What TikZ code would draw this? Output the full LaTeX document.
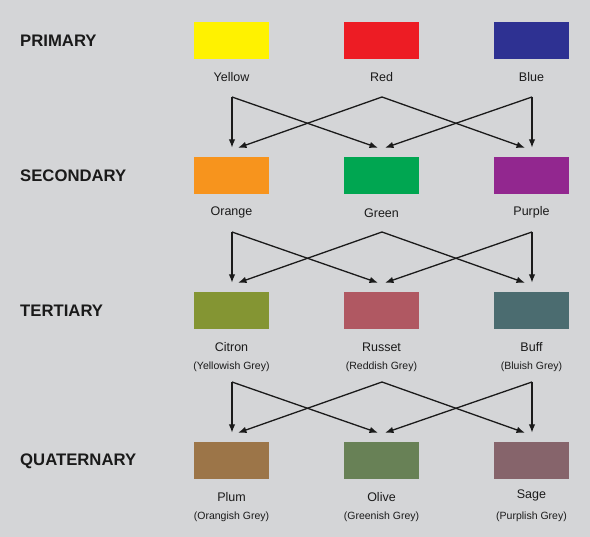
\documentclass[tikz,border=0pt]{standalone}
\usepackage{fontspec}
\setmainfont{Liberation Sans}
\usetikzlibrary{arrows.meta}

\definecolor{paper}{HTML}{D4D5D7}
\definecolor{ink}{HTML}{1A1A1A}
\definecolor{cYellow}{HTML}{FFF200}
\definecolor{cRed}{HTML}{ED1C24}
\definecolor{cBlue}{HTML}{2E3192}
\definecolor{cOrange}{HTML}{F7941D}
\definecolor{cGreen}{HTML}{00A651}
\definecolor{cPurple}{HTML}{92278F}
\definecolor{cCitron}{HTML}{849533}
\definecolor{cRusset}{HTML}{B05862}
\definecolor{cBuff}{HTML}{4B6C70}
\definecolor{cPlum}{HTML}{9C7548}
\definecolor{cOlive}{HTML}{688156}
\definecolor{cSage}{HTML}{86646B}

\begin{document}
\begin{tikzpicture}[x=1pt, y=-1pt,
    swatch/.style={rectangle, draw=none, minimum width=75pt, minimum height=37pt, inner sep=0pt},
    rowtitle/.style={anchor=west, inner sep=0pt, text=ink, font=\fontsize{16.7}{20}\selectfont\bfseries},
    colname/.style={anchor=base, inner sep=0pt, text=ink, font=\fontsize{12.5}{15}\selectfont},
    colnote/.style={anchor=base, inner sep=0pt, text=ink, font=\fontsize{10.5}{13}\selectfont},
    mix/.style={-{Latex[length=8.5pt,width=6.5pt]}, line width=1.3pt, ink}]
    % Background
    \fill[paper] (0,0) rectangle (590,537);
    \useasboundingbox (0,0) rectangle (590,537);

    % Row titles
    \node[rowtitle] (primary) at (20,40.5) {PRIMARY};
    \node[rowtitle] (secondary) at (20,175.5) {SECONDARY};
    \node[rowtitle] (tertiary) at (20,310.5) {TERTIARY};
    \node[rowtitle] (quaternary) at (20,461) {QUATERNARY};

    % Primary colours
    \node[swatch, fill=cYellow] (yellow) at (231.5,40.5) {};
    \node[swatch, fill=cRed] (red) at (381.5,40.5) {};
    \node[swatch, fill=cBlue] (blue) at (531.5,40.5) {};
    \node[colname] (yellowname) at (231.5,82) {Yellow};
    \node[colname] (redname) at (381.5,82) {Red};
    \node[colname] (bluename) at (531.5,82) {Blue};

    % Secondary colours
    \node[swatch, fill=cOrange] (orange) at (231.5,175.5) {};
    \node[swatch, fill=cGreen] (green) at (381.5,175.5) {};
    \node[swatch, fill=cPurple] (purple) at (531.5,175.5) {};
    \node[colname] (orangename) at (231.5,215.5) {Orange};
    \node[colname] (greenname) at (381.5,217.5) {Green};
    \node[colname] (purplename) at (531.5,215.5) {Purple};

    % Tertiary colours
    \node[swatch, fill=cCitron] (citron) at (231.5,310.5) {};
    \node[swatch, fill=cRusset] (russet) at (381.5,310.5) {};
    \node[swatch, fill=cBuff] (buff) at (531.5,310.5) {};
    \node[colname] (citronname) at (231.5,352) {Citron};
    \node[colname] (russetname) at (381.5,352) {Russet};
    \node[colname] (buffname) at (531.5,352) {Buff};
    \node[colnote] (citronnote) at (231.5,369.5) {(Yellowish Grey)};
    \node[colnote] (russetnote) at (381.5,369.5) {(Reddish Grey)};
    \node[colnote] (buffnote) at (531.5,369.5) {(Bluish Grey)};

    % Quaternary colours
    \node[swatch, fill=cPlum] (plum) at (231.5,460.5) {};
    \node[swatch, fill=cOlive] (olive) at (381.5,460.5) {};
    \node[swatch, fill=cSage] (sage) at (531.5,460.5) {};
    \node[colname] (plumname) at (231.5,502) {Plum};
    \node[colname] (olivename) at (381.5,502) {Olive};
    \node[colname] (sagename) at (531.5,499) {Sage};
    \node[colnote] (plumnote) at (231.5,519.5) {(Orangish Grey)};
    \node[colnote] (olivenote) at (381.5,519.5) {(Greenish Grey)};
    \node[colnote] (sagenote) at (531.5,519.5) {(Purplish Grey)};

    % Start points of the mixing arrows
    \coordinate (yellowout) at (232,97);
    \coordinate (redout) at (382,97);
    \coordinate (blueout) at (532,97);
    \coordinate (orangeout) at (232,232);
    \coordinate (greenout) at (382,232);
    \coordinate (purpleout) at (532,232);
    \coordinate (citronout) at (232,382);
    \coordinate (russetout) at (382,382);
    \coordinate (buffout) at (532,382);

    % Primary -> secondary
    \draw[mix] (yellowout) -- ([xshift=0.5pt,yshift=9pt]orange.north);
    \draw[mix] (yellowout) -- ([xshift=-3.5pt,yshift=9pt]green.north);
    \draw[mix] (redout) -- ([xshift=6.5pt,yshift=9pt]orange.north);
    \draw[mix] (redout) -- ([xshift=-6.5pt,yshift=9pt]purple.north);
    \draw[mix] (blueout) -- ([xshift=3.5pt,yshift=9pt]green.north);
    \draw[mix] (blueout) -- ([xshift=0.5pt,yshift=9pt]purple.north);

    % Secondary -> tertiary
    \draw[mix] (orangeout) -- ([xshift=0.5pt,yshift=9pt]citron.north);
    \draw[mix] (orangeout) -- ([xshift=-3.5pt,yshift=9pt]russet.north);
    \draw[mix] (greenout) -- ([xshift=6.5pt,yshift=9pt]citron.north);
    \draw[mix] (greenout) -- ([xshift=-6.5pt,yshift=9pt]buff.north);
    \draw[mix] (purpleout) -- ([xshift=3.5pt,yshift=9pt]russet.north);
    \draw[mix] (purpleout) -- ([xshift=0.5pt,yshift=9pt]buff.north);

    % Tertiary -> quaternary
    \draw[mix] (citronout) -- ([xshift=0.5pt,yshift=9pt]plum.north);
    \draw[mix] (citronout) -- ([xshift=-3.5pt,yshift=9pt]olive.north);
    \draw[mix] (russetout) -- ([xshift=6.5pt,yshift=9pt]plum.north);
    \draw[mix] (russetout) -- ([xshift=-6.5pt,yshift=9pt]sage.north);
    \draw[mix] (buffout) -- ([xshift=3.5pt,yshift=9pt]olive.north);
    \draw[mix] (buffout) -- ([xshift=0.5pt,yshift=9pt]sage.north);
\end{tikzpicture}
\end{document}
